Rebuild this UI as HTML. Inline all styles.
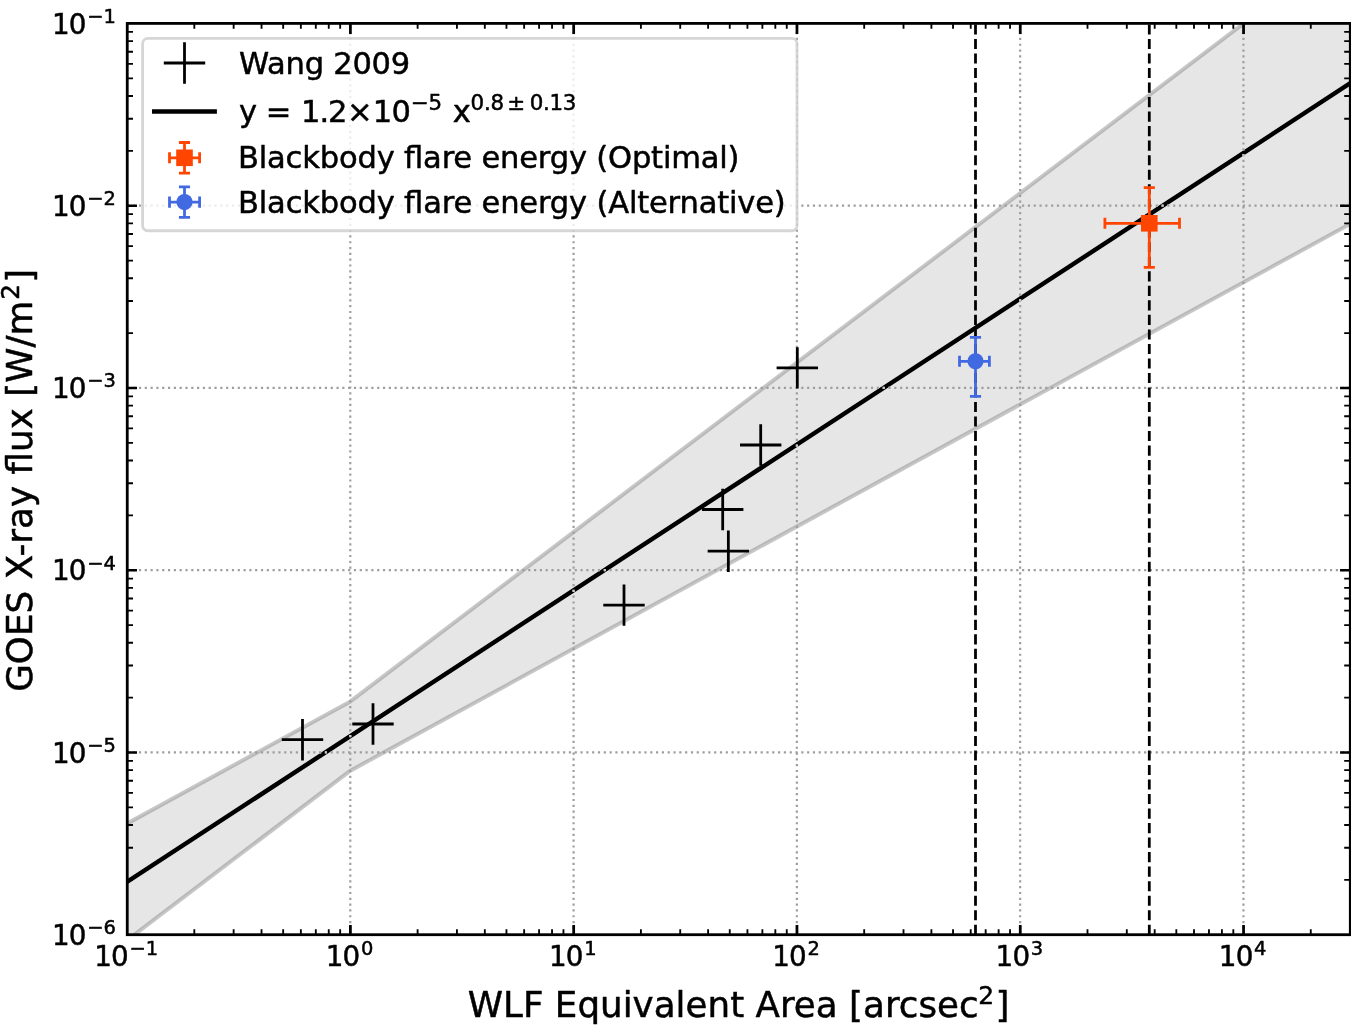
<!DOCTYPE html>
<html lang="en"><head><meta charset="utf-8"><title>WLF Equivalent Area vs GOES X-ray flux</title>
<style>html,body{margin:0;padding:0;background:#fff}svg{display:block}</style></head>
<body>
<svg width="1351" height="1025" viewBox="0 0 1351 1025" font-family='"DejaVu Sans", "Liberation Sans", sans-serif' fill="#000">
<style>text{stroke:#000;stroke-width:0.5px;stroke-linejoin:round}</style>
<rect width="1351" height="1025" fill="#fff"/>
<defs><clipPath id="ax"><rect x="127.25" y="23.4" width="1223.05" height="911.3000000000001"/></clipPath></defs>
<g clip-path="url(#ax)">
<path d="M117.25,828.95 L350.4,701.45 L1360.3,-65.13 L1360.3,218.43 L350.4,770.7 L117.25,947.68 Z" fill="#e6e6e6"/>
<path d="M117.25,828.95 L350.4,701.45 L1360.3,-65.13" fill="none" stroke="#808080" stroke-opacity="0.44" stroke-width="4.0" stroke-linejoin="round"/>
<path d="M117.25,947.68 L350.4,770.7 L1360.3,218.43" fill="none" stroke="#808080" stroke-opacity="0.44" stroke-width="4.0" stroke-linejoin="round"/>
<path d="M117.25,888.29 L1360.3,76.62" stroke="#000" stroke-width="4.44" fill="none"/>
<path id="grid" d="M350.29,934.75 V17.4 M573.58,934.75 V17.4 M796.87,934.75 V17.4 M1020.16,934.75 V17.4 M1243.45,934.75 V17.4 M127.30,752.40 H1355.99 M127.30,570.15 H1355.99 M127.30,387.90 H1355.99 M127.30,205.65 H1355.99 " stroke="#9e9e9e" stroke-width="2.19" stroke-dasharray="2.19 3.62" fill="none"/>
<clipPath id="fl"><path d="M117.25,885.64 L1360.3,73.97 L1360.3,79.27 L117.25,890.94 Z"/></clipPath>
<g clip-path="url(#fl)"><path d="M350.29,934.75 V17.4 M573.58,934.75 V17.4 M796.87,934.75 V17.4 M1020.16,934.75 V17.4 M1243.45,934.75 V17.4 M127.30,752.40 H1355.99 M127.30,570.15 H1355.99 M127.30,387.90 H1355.99 M127.30,205.65 H1355.99 " stroke="#cccccc" stroke-width="2.19" stroke-dasharray="2.19 3.62" fill="none"/></g>
<path d="M975.5,934.8 V23.4" stroke="#000" stroke-width="2.78" stroke-dasharray="10.1 4.42" fill="none"/>
<path d="M1149.3,934.8 V23.4" stroke="#000" stroke-width="2.78" stroke-dasharray="10.1 4.42" fill="none"/>
<path d="M281.8,739.7 H323.2 M302.5,719.0 V760.4000000000001 M352.3,724.0 H393.7 M373.0,703.3 V744.7 M603.3,605.15 H644.7 M624.0,584.4499999999999 V625.85 M702.0,509.5 H743.4000000000001 M722.7,488.8 V530.2 M707.65,551.2 H749.0500000000001 M728.35,530.5 V571.9000000000001 M740.0,445.0 H781.4000000000001 M760.7,424.3 V465.7 M776.5999999999999,367.85 H818.0 M797.3,347.15000000000003 V388.55 " stroke="#000" stroke-width="2.78" fill="none"/>
<g stroke="#ff4500" stroke-width="2.78" fill="none"><path d="M1104.9,223.3 H1179.5 M1149.3,187.6 V267.4"/><path d="M1104.9,217.75 V228.85000000000002 M1179.5,217.75 V228.85000000000002 M1143.75,187.6 H1154.85 M1143.75,267.4 H1154.85"/></g><rect x="1141.0" y="215.0" width="16.6" height="16.6" fill="#ff4500"/>
<g stroke="#4169e1" stroke-width="2.78" fill="none"><path d="M959.5,361.3 H989.4 M975.5,337.35 V396.4"/><path d="M959.5,355.75 V366.85 M989.4,355.75 V366.85 M969.95,337.35 H981.05 M969.95,396.4 H981.05"/></g><circle cx="975.5" cy="361.3" r="8.1" fill="#4169e1"/>
</g>
<path d="M350.39,934.7 V925.1 M350.39,23.4 V34.0 M573.68,934.7 V925.1 M573.68,23.4 V34.0 M796.97,934.7 V925.1 M796.97,23.4 V34.0 M1020.26,934.7 V925.1 M1020.26,23.4 V34.0 M1243.55,934.7 V925.1 M1243.55,23.4 V34.0 M127.25,752.50 H137.0 M1350.3,752.50 H1340.05 M127.25,570.25 H137.0 M1350.3,570.25 H1340.05 M127.25,388.00 H137.0 M1350.3,388.00 H1340.05 M127.25,205.75 H137.0 M1350.3,205.75 H1340.05 " stroke="#000" stroke-width="2.74" fill="none"/>
<path d="M194.32,934.7 V929.2 M194.32,23.4 V28.8 M233.64,934.7 V929.2 M233.64,23.4 V28.8 M261.53,934.7 V929.2 M261.53,23.4 V28.8 M283.17,934.7 V929.2 M283.17,23.4 V28.8 M300.85,934.7 V929.2 M300.85,23.4 V28.8 M315.80,934.7 V929.2 M315.80,23.4 V28.8 M328.75,934.7 V929.2 M328.75,23.4 V28.8 M340.17,934.7 V929.2 M340.17,23.4 V28.8 M417.61,934.7 V929.2 M417.61,23.4 V28.8 M456.93,934.7 V929.2 M456.93,23.4 V28.8 M484.82,934.7 V929.2 M484.82,23.4 V28.8 M506.46,934.7 V929.2 M506.46,23.4 V28.8 M524.14,934.7 V929.2 M524.14,23.4 V28.8 M539.09,934.7 V929.2 M539.09,23.4 V28.8 M552.04,934.7 V929.2 M552.04,23.4 V28.8 M563.46,934.7 V929.2 M563.46,23.4 V28.8 M640.90,934.7 V929.2 M640.90,23.4 V28.8 M680.22,934.7 V929.2 M680.22,23.4 V28.8 M708.11,934.7 V929.2 M708.11,23.4 V28.8 M729.75,934.7 V929.2 M729.75,23.4 V28.8 M747.43,934.7 V929.2 M747.43,23.4 V28.8 M762.38,934.7 V929.2 M762.38,23.4 V28.8 M775.33,934.7 V929.2 M775.33,23.4 V28.8 M786.75,934.7 V929.2 M786.75,23.4 V28.8 M864.19,934.7 V929.2 M864.19,23.4 V28.8 M903.51,934.7 V929.2 M903.51,23.4 V28.8 M931.40,934.7 V929.2 M931.40,23.4 V28.8 M953.04,934.7 V929.2 M953.04,23.4 V28.8 M970.72,934.7 V929.2 M970.72,23.4 V28.8 M985.67,934.7 V929.2 M985.67,23.4 V28.8 M998.62,934.7 V929.2 M998.62,23.4 V28.8 M1010.04,934.7 V929.2 M1010.04,23.4 V28.8 M1087.48,934.7 V929.2 M1087.48,23.4 V28.8 M1126.80,934.7 V929.2 M1126.80,23.4 V28.8 M1154.69,934.7 V929.2 M1154.69,23.4 V28.8 M1176.33,934.7 V929.2 M1176.33,23.4 V28.8 M1194.01,934.7 V929.2 M1194.01,23.4 V28.8 M1208.96,934.7 V929.2 M1208.96,23.4 V28.8 M1221.91,934.7 V929.2 M1221.91,23.4 V28.8 M1233.33,934.7 V929.2 M1233.33,23.4 V28.8 M1310.77,934.7 V929.2 M1310.77,23.4 V28.8 M127.25,879.89 H133.0 M1350.3,879.89 H1344.2 M127.25,847.79 H133.0 M1350.3,847.79 H1344.2 M127.25,825.02 H133.0 M1350.3,825.02 H1344.2 M127.25,807.36 H133.0 M1350.3,807.36 H1344.2 M127.25,792.93 H133.0 M1350.3,792.93 H1344.2 M127.25,780.73 H133.0 M1350.3,780.73 H1344.2 M127.25,770.16 H133.0 M1350.3,770.16 H1344.2 M127.25,760.84 H133.0 M1350.3,760.84 H1344.2 M127.25,697.64 H133.0 M1350.3,697.64 H1344.2 M127.25,665.54 H133.0 M1350.3,665.54 H1344.2 M127.25,642.77 H133.0 M1350.3,642.77 H1344.2 M127.25,625.11 H133.0 M1350.3,625.11 H1344.2 M127.25,610.68 H133.0 M1350.3,610.68 H1344.2 M127.25,598.48 H133.0 M1350.3,598.48 H1344.2 M127.25,587.91 H133.0 M1350.3,587.91 H1344.2 M127.25,578.59 H133.0 M1350.3,578.59 H1344.2 M127.25,515.39 H133.0 M1350.3,515.39 H1344.2 M127.25,483.29 H133.0 M1350.3,483.29 H1344.2 M127.25,460.52 H133.0 M1350.3,460.52 H1344.2 M127.25,442.86 H133.0 M1350.3,442.86 H1344.2 M127.25,428.43 H133.0 M1350.3,428.43 H1344.2 M127.25,416.23 H133.0 M1350.3,416.23 H1344.2 M127.25,405.66 H133.0 M1350.3,405.66 H1344.2 M127.25,396.34 H133.0 M1350.3,396.34 H1344.2 M127.25,333.14 H133.0 M1350.3,333.14 H1344.2 M127.25,301.04 H133.0 M1350.3,301.04 H1344.2 M127.25,278.27 H133.0 M1350.3,278.27 H1344.2 M127.25,260.61 H133.0 M1350.3,260.61 H1344.2 M127.25,246.18 H133.0 M1350.3,246.18 H1344.2 M127.25,233.98 H133.0 M1350.3,233.98 H1344.2 M127.25,223.41 H133.0 M1350.3,223.41 H1344.2 M127.25,214.09 H133.0 M1350.3,214.09 H1344.2 M127.25,150.89 H133.0 M1350.3,150.89 H1344.2 M127.25,118.79 H133.0 M1350.3,118.79 H1344.2 M127.25,96.02 H133.0 M1350.3,96.02 H1344.2 M127.25,78.36 H133.0 M1350.3,78.36 H1344.2 M127.25,63.93 H133.0 M1350.3,63.93 H1344.2 M127.25,51.73 H133.0 M1350.3,51.73 H1344.2 M127.25,41.16 H133.0 M1350.3,41.16 H1344.2 M127.25,31.84 H133.0 M1350.3,31.84 H1344.2 " stroke="#000" stroke-width="1.85" fill="none"/>
<rect x="127.25" y="23.4" width="1223.05" height="911.3000000000001" fill="none" stroke="#000" stroke-width="2.8" stroke-linejoin="miter"/>
<text y="944.75" font-size="27.78"><tspan x="51.95 68.75">10</tspan><tspan x="87.13" dy="-10.6" font-size="19.45">−6</tspan></text>
<text y="762.50" font-size="27.78"><tspan x="51.95 68.75">10</tspan><tspan x="87.13" dy="-10.6" font-size="19.45">−5</tspan></text>
<text y="580.25" font-size="27.78"><tspan x="51.95 68.75">10</tspan><tspan x="87.13" dy="-10.6" font-size="19.45">−4</tspan></text>
<text y="398.00" font-size="27.78"><tspan x="51.95 68.75">10</tspan><tspan x="87.13" dy="-10.6" font-size="19.45">−3</tspan></text>
<text y="215.75" font-size="27.78"><tspan x="51.95 68.75">10</tspan><tspan x="87.13" dy="-10.6" font-size="19.45">−2</tspan></text>
<text y="33.50" font-size="27.78"><tspan x="51.95 68.75">10</tspan><tspan x="87.13" dy="-10.6" font-size="19.45">−1</tspan></text>
<text y="966.00" font-size="27.78"><tspan x="94.28 111.08">10</tspan><tspan x="129.46" dy="-10.6" font-size="19.45">−1</tspan></text>
<text y="966.00" font-size="27.78"><tspan x="325.71 342.51">10</tspan><tspan x="360.89" dy="-10.6" font-size="19.45">0</tspan></text>
<text y="966.00" font-size="27.78"><tspan x="549.00 565.80">10</tspan><tspan x="584.18" dy="-10.6" font-size="19.45">1</tspan></text>
<text y="966.00" font-size="27.78"><tspan x="772.29 789.09">10</tspan><tspan x="807.47" dy="-10.6" font-size="19.45">2</tspan></text>
<text y="966.00" font-size="27.78"><tspan x="995.58 1012.38">10</tspan><tspan x="1030.76" dy="-10.6" font-size="19.45">3</tspan></text>
<text y="966.00" font-size="27.78"><tspan x="1218.87 1235.67">10</tspan><tspan x="1254.05" dy="-10.6" font-size="19.45">4</tspan></text>
<text x="467.72" y="1017" font-size="35.65" textLength="510.89" lengthAdjust="spacing">WLF Equivalent Area [arcsec</text>
<text x="978.27" y="1003.5" font-size="24.95">2</text>
<text x="995.44" y="1017" font-size="35.65">]</text>
<g transform="translate(32.3,691.80) rotate(-90)">
<text x="0.00" y="0" font-size="35.65" textLength="391.13" lengthAdjust="spacing">GOES X-ray flux [W/m</text>
<text x="392.17" y="-13.6" font-size="24.95">2</text>
<text x="409.04" y="0" font-size="35.65">]</text>
</g>
<rect x="142.6" y="38.4" width="654.4" height="192.35" rx="5.2" ry="5.2" fill="#fff" fill-opacity="0.8" stroke="#ccc" stroke-opacity="0.8" stroke-width="2.78"/>
<path d="M163.8,63.0 H205.2 M184.5,42.3 V83.7" stroke="#000" stroke-width="2.78" fill="none"/>
<path d="M152.0,111.5 H216.9" stroke="#000" stroke-width="4.44" fill="none"/>
<g stroke="#ff4500" stroke-width="2.78" fill="none"><path d="M169.5,157.8 H199.6 M184.5,142.5 V173.2"/><path d="M169.5,152.25 V163.35000000000002 M199.6,152.25 V163.35000000000002 M178.95,142.5 H190.05 M178.95,173.2 H190.05"/></g><rect x="176.2" y="149.5" width="16.6" height="16.6" fill="#ff4500"/>
<g stroke="#4169e1" stroke-width="2.78" fill="none"><path d="M169.5,202.1 H199.6 M184.5,186.9 V217.3"/><path d="M169.5,196.54999999999998 V207.65 M199.6,196.54999999999998 V207.65 M178.95,186.9 H190.05 M178.95,217.3 H190.05"/></g><circle cx="184.5" cy="202.1" r="8.1" fill="#4169e1"/>
<text x="239.09" y="74" font-size="30.56" textLength="171.06" lengthAdjust="spacing">Wang 2009</text>
<text x="238.99" y="122" font-size="30.56" textLength="17.82" lengthAdjust="spacing">y</text>
<text x="265.76" y="122" font-size="30.56" textLength="26.48" lengthAdjust="spacing">=</text>
<text x="300.94" y="122" font-size="30.56" textLength="46.62" lengthAdjust="spacing">1.2</text>
<text x="347.01" y="122" font-size="30.56" textLength="25.37" lengthAdjust="spacing">×</text>
<text x="372.64" y="122" font-size="30.56" textLength="38.29" lengthAdjust="spacing">10</text>
<text x="411.03" y="110" font-size="21.39" textLength="31.04" lengthAdjust="spacing">−5</text>
<text x="452.72" y="122" font-size="30.56" textLength="17.58" lengthAdjust="spacing">x</text>
<text x="470.59" y="110" font-size="21.39" textLength="33.47" lengthAdjust="spacing">0.8</text>
<text x="507.23" y="110" font-size="21.39" textLength="18.63" lengthAdjust="spacing">±</text>
<text x="529.79" y="110" font-size="21.39" textLength="46.62" lengthAdjust="spacing">0.13</text>
<text x="238.00" y="168" font-size="30.56" textLength="501.53" lengthAdjust="spacing">Blackbody flare energy (Optimal)</text>
<text x="238.00" y="213" font-size="30.56" textLength="547.73" lengthAdjust="spacing">Blackbody flare energy (Alternative)</text>
</svg>
</body></html>
